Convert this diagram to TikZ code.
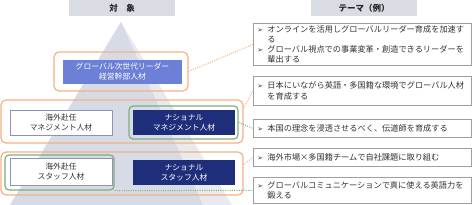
\documentclass[tikz,border=0pt]{standalone}
\usepackage{fontspec}
\setmainfont{Noto Sans CJK JP}
\newfontfamily\dejavu{DejaVu Sans}
\usetikzlibrary{calc,shadows}
\definecolor{orng}{HTML}{F4B183}
\definecolor{grn}{HTML}{7FAE7B}
\definecolor{navy}{HTML}{1F2E7A}
\definecolor{midblue}{HTML}{6B80D6}
\definecolor{wbord}{HTML}{8C93B5}
\definecolor{hdrgray}{HTML}{D9DCE3}
\definecolor{pyrA}{HTML}{D7DBE6}
\definecolor{pyrB}{HTML}{E8EAF0}
\definecolor{txt}{HTML}{333333}
\newcommand{\bul}{\makebox[10pt][l]{\dejavu\fontsize{7}{7}\selectfont ➢}}
\newcommand{\ind}{\hspace*{10pt}}
\tikzset{
  hdr/.style={fill=hdrgray, minimum width=106pt, minimum height=16pt, inner sep=0pt,
    font=\fontsize{8.5}{10}\selectfont\bfseries, text=black!85},
  grp/.style={draw=orng, line width=1.2pt, rounded corners=5pt, inner sep=0pt},
  sel/.style={draw=grn, line width=1.2pt, rounded corners=4pt, inner sep=0pt},
  lbl/.style={inner sep=0pt, align=center, font=\fontsize{7.8}{10}\selectfont},
  wbox/.style={lbl, draw=wbord, fill=white, line width=0.8pt, text=txt},
  nbox/.style={lbl, fill=navy, text=white},
  bbox/.style={lbl, fill=midblue, text=white},
  theme/.style={draw=gray!75, fill=white, line width=0.8pt,
    drop shadow={shadow xshift=0.9pt, shadow yshift=-0.9pt, opacity=0.35, fill=gray},
    anchor=north west, align=left, inner xsep=4pt, inner ysep=0pt,
    text width=210pt, minimum width=218pt, text=txt,
    font=\fontsize{8.2}{10.3}\selectfont},
  odot/.style={draw=orng, line width=1pt, dash pattern=on 1pt off 1.3pt},
  gdot/.style={draw=grn, line width=1pt, dash pattern=on 1pt off 1.3pt}
}
\begin{document}
\begin{tikzpicture}[x=1pt,y=-1pt]
\useasboundingbox (0,0) rectangle (474,205);
% pyramid
\fill[pyrB] (121,22) -- (232,205) -- (10,205) -- cycle;
\fill[pyrA] (121,22) -- (203,205) -- (10,205) -- cycle;
% headers
\node[hdr] (h1) at (122,8) {対　象};
\node[hdr] (h2) at (364,8) {テーマ（例）};
% groups
\node[grp, minimum width=134pt, minimum height=39pt] (topgrp) at (121,71.5) {};
\node[bbox, minimum width=119pt, minimum height=24pt] (lead) at (122.5,72) {グローバル次世代リーダー\\経営幹部人材};
\node[grp, minimum width=242pt, minimum height=43pt] (r2) at (122,121.5) {};
\node[grp, minimum width=242pt, minimum height=43pt] (r3) at (122,173.5) {};
\node[sel, minimum width=109pt, minimum height=33pt] (g2) at (183.5,122.5) {};
\node[sel, minimum width=109pt, minimum height=35pt] (g3) at (59.5,172.5) {};
\node[wbox, minimum width=102pt, minimum height=25pt] (w2) at (61,122.5) {海外赴任\\マネジメント人材};
\node[nbox, minimum width=102pt, minimum height=25pt] (n2) at (184,122.5) {ナショナル\\マネジメント人材};
\node[wbox, minimum width=102pt, minimum height=27pt] (w3) at (61,171.5) {海外赴任\\スタッフ人材};
\node[nbox, minimum width=102pt, minimum height=25pt] (n3) at (184,172.5) {ナショナル\\スタッフ人材};
% theme boxes
\node[theme, minimum height=42pt] (b1) at (253,23) {\bul オンラインを活用しグローバルリーダー育成を加速す\\\ind る\\\bul グローバル視点での事業変革・創造できるリーダーを\\\ind 輩出する};
\node[theme, minimum height=29pt] (b2) at (253,76) {\bul 日本にいながら英語・多国籍な環境でグローバル人材\\\ind を育成する};
\node[theme, minimum height=18pt] (b3) at (253,119) {\bul 本国の理念を浸透させるべく、伝道師を育成する};
\node[theme, minimum height=18pt] (b4) at (253,148) {\bul 海外市場×多国籍チームで自社課題に取り組む};
\node[theme, minimum height=26pt] (b5) at (253,177) {\bul グローバルコミュニケーションで真に使える英語力を\\\ind 鍛える};
% connectors
\draw[odot] (topgrp.east) -- (b1.west);
\draw[odot] ($(r2.north east)!0.2!(r2.south east)$) -- (b2.west);
\draw[gdot] (g2.east) -- (b3.west);
\draw[odot] ($(r3.north east)!0.3!(r3.south east)$) -- (b4.west);
\draw[gdot] (g3.south east) -- (b5.west);
\end{tikzpicture}
\end{document}
